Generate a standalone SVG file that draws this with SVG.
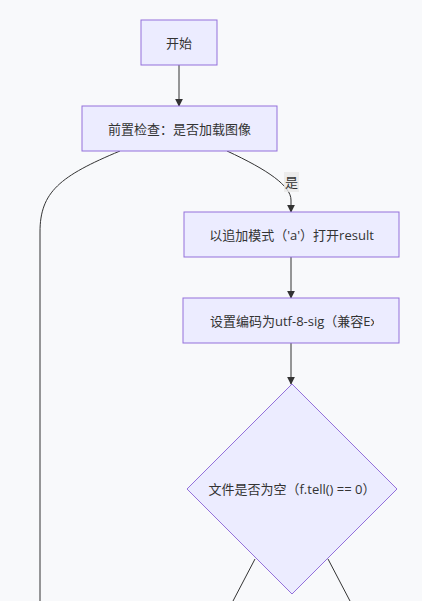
<svg xmlns="http://www.w3.org/2000/svg" width="422" height="601" viewBox="0 0 422 601">
<style>
.node rect,.node polygon{fill:#ECECFF;stroke:#9370DB;stroke-width:1}
.node text{font-family:"Open Sans","Noto Sans CJK SC",sans-serif;font-size:13px;fill:#333;text-anchor:middle;dominant-baseline:central}
.edge{fill:none;stroke:#333;stroke-width:1}
.lbl{font-family:"Open Sans","Noto Sans CJK SC",sans-serif;font-size:13px;fill:#333;text-anchor:middle;dominant-baseline:central}
</style>
<defs>
<marker id="arr" viewBox="0 0 10 10" refX="9" refY="5" markerWidth="8" markerHeight="8" orient="auto" markerUnits="userSpaceOnUse">
<path d="M0,0 L10,5 L0,10 z" fill="#333"/>
</marker>
<clipPath id="clip4"><rect x="183" y="298" width="191" height="45"/></clipPath>
</defs>
<rect width="422" height="601" fill="#f8f9fb"/>
<g id="edges">
<path class="edge" d="M179,65 L179,106" marker-end="url(#arr)"/>
<path class="edge" d="M120,151 C60,176 40,192 40,232 L40,601"/>
<path class="edge" d="M227,151 C268,170 291,186 291,200 L291,212" marker-end="url(#arr)"/>
<path class="edge" d="M291,257 L291,298" marker-end="url(#arr)"/>
<path class="edge" d="M291,343 L291,384" marker-end="url(#arr)"/>
<path class="edge" d="M255,559 L233,601"/>
<path class="edge" d="M328,559 L350,601"/>
<rect x="284" y="172" width="15" height="20" fill="#e8e8e8" opacity="0.8"/>
<text class="lbl" x="291.5" y="182">是</text>
</g>
<g id="start" class="node">
<rect x="141" y="20" width="76" height="45"/>
<text x="179" y="42.5">开始</text>
</g>
<g id="precheck" class="node">
<rect x="82" y="106" width="195" height="45"/>
<text x="179.5" y="128.5">前置检查：是否加载图像</text>
</g>
<g id="open" class="node">
<rect x="184" y="212" width="215" height="45"/>
<text x="291.5" y="234.5">以追加模式（'a'）打开result</text>
</g>
<g id="encoding" class="node">
<rect x="183" y="298" width="216" height="45"/>
<text x="210" y="320.5" clip-path="url(#clip4)" style="text-anchor:start">设置编码为utf-8-sig（兼容Excel）</text>
</g>
<g id="empty" class="node">
<polygon points="292,384 397,489 292,594 187,489"/>
<text x="292" y="489">文件是否为空（f.tell() == 0）</text>
</g>
</svg>
